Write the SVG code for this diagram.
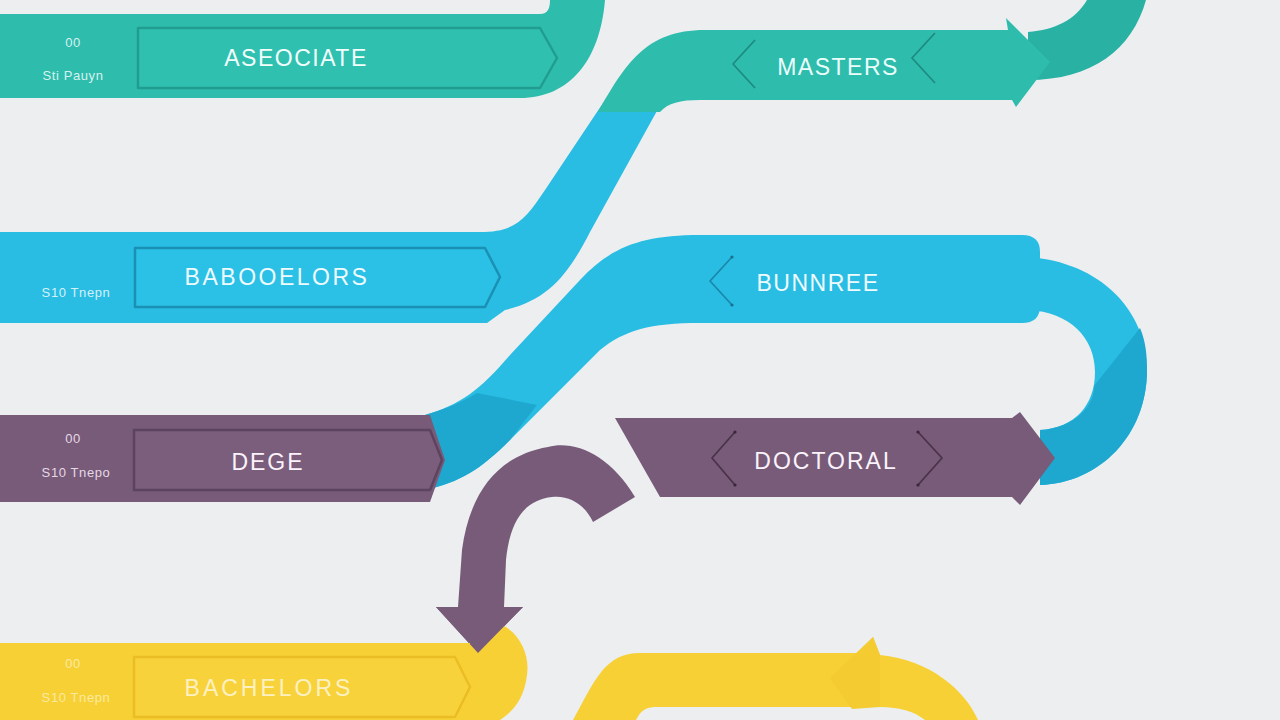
<svg xmlns="http://www.w3.org/2000/svg" width="1280" height="720" viewBox="0 0 1280 720">
<defs>
<style>
.teal{fill:#2ebcad}
.tealD{fill:#29b2a3}
.cyan{fill:#29bde3}
.cyanD{fill:#1ea8cf}
.purple{fill:#775b79}
.yellow{fill:#f7d035}
.lbl{font-family:"Liberation Sans","Open Sans",Arial,sans-serif;font-size:23px;text-anchor:middle;dominant-baseline:central}
.sm{font-family:"Liberation Sans",Arial,sans-serif;font-size:13px;text-anchor:middle;dominant-baseline:central;letter-spacing:0.6px}
.box{stroke-width:2.5;stroke-linejoin:round}
.chev{fill:none;stroke-width:1.8;stroke-linejoin:round}
</style>
</defs>
<rect width="1280" height="720" fill="#eceef0"/>

<g id="connectors">
  <path class="tealD" d="M1028 32 C1055 30 1075 20 1087 0 L1146 0 C1132 50 1092 80 1028 80 Z"/>
  <path class="cyan" d="M0 232 L480 232 C515 232 525 220 545 190 L615 85 L663 100 L590 232 C568 275 548 300 505 310 L487 323 L0 323 Z"/>
  <path class="cyan" d="M1028 257 C1100 262 1147 310 1147 370 C1147 435 1100 483 1040 485 L1040 430 C1075 428 1095 405 1095 372 C1095 338 1070 312 1028 310 Z"/>
  <path class="cyanD" d="M1140 328 C1146 342 1147 356 1147 370 C1147 435 1100 483 1040 485 L1040 430 C1075 428 1095 405 1094 386 Z"/>
  <path class="cyan" d="M425 415 C460 405 480 390 510 355 L580 280 C610 248 640 235 700 235 L1022 235 Q1040 235 1040 252 L1040 306 Q1040 323 1022 323 L700 323 C650 323 625 330 600 350 L510 440 C480 470 460 482 425 490 Z"/>
  <path class="cyanD" d="M425 415 C450 408 465 400 477 393 L537 405 L510 440 C480 470 460 482 425 490 Z"/>
  <path class="purple" d="M635 497 C610 455 575 440 548 447 C500 455 470 490 462 550 L458 607 L436 607 L478 653 L523 607 L504 607 L506 560 C510 520 525 500 552 497 C570 495 585 505 593 522 Z"/>
</g>

<g id="node-associate">
  <path class="teal" d="M0 14 L540 14 C548 14 550 8 550 0 L605 0 C600 60 570 98 520 98 L0 98 Z"/>
  <polygon class="box" points="138,28 540,28 557,58 540,88 138,88" fill="#30c0b0" stroke="#219d90"/>
  <text class="sm" x="73" y="42" fill="#d6f2ee">00</text>
  <text class="sm" x="73" y="75" fill="#d6f2ee">Sti Pauyn</text>
  <text class="lbl" x="296" y="58" fill="#f2fffd" letter-spacing="1.5">ASEOCIATE</text>
</g>

<g id="node-masters">
  <path class="teal" d="M598 112 C625 65 645 30 705 30 L1008 30 L1006 18 L1050 62 L1016 107 L1012 100 L700 100 C680 100 668 103 660 112 Z"/>
  <polyline class="chev" points="755,40 733,64 755,88" stroke="#1d8c80"/>
  <polyline class="chev" points="935,33 912,58 935,83" stroke="#1d8c80"/>
  <text class="lbl" x="838" y="67" fill="#eafffb" font-size="22" letter-spacing="1.5">MASTERS</text>
</g>

<g id="node-baboelors">
  <polygon class="box" points="135,248 485,248 500,277 485,307 135,307" fill="#2bc0e5" stroke="#1a90b4"/>
  <text class="sm" x="76" y="292" fill="#d3f1fa">S10 Tnepn</text>
  <text class="lbl" x="277" y="277" fill="#eefbff" letter-spacing="2.5">BABOOELORS</text>
</g>

<g id="node-bunnree">
  <polyline class="chev" points="732,257 710,281 732,305" stroke="#1a88ad"/>
  <circle cx="732" cy="257" r="1.6" fill="#1a6f8f"/>
  <circle cx="732" cy="305" r="1.6" fill="#1a6f8f"/>
  <text class="lbl" x="818" y="283" fill="#eefbff" font-size="21" letter-spacing="1.5">BUNNREE</text>
</g>

<g id="node-dege">
  <path class="purple" d="M0 415 L430 415 L445 460 L430 502 L0 502 Z"/>
  <polygon class="box" points="134,430 430,430 442,460 430,490 134,490" fill="#7a5e7c" stroke="#5e4360"/>
  <text class="sm" x="73" y="438" fill="#e6d8e6">00</text>
  <text class="sm" x="76" y="472" fill="#e6d8e6">S10 Tnepo</text>
  <text class="lbl" x="268" y="462" fill="#fbf3fb" letter-spacing="2">DEGE</text>
</g>

<g id="node-doctoral">
  <path class="purple" d="M615 418 L1012 418 L1020 412 L1055 458 L1020 505 L1012 497 L660 497 Z"/>
  <polyline class="chev" points="735,432 712,458 735,485" stroke="#4a3349"/>
  <polyline class="chev" points="918,432 942,458 918,485" stroke="#4a3349"/>
  <circle cx="735" cy="432" r="1.6" fill="#3a2639"/>
  <circle cx="735" cy="485" r="1.6" fill="#3a2639"/>
  <circle cx="918" cy="432" r="1.6" fill="#3a2639"/>
  <circle cx="918" cy="485" r="1.6" fill="#3a2639"/>
  <text class="lbl" x="826" y="461" fill="#fbf3fb" font-size="22" letter-spacing="2">DOCTORAL</text>
</g>

<g id="node-bachelors">
  <path class="yellow" d="M455 643 L478 645 L495 622 C520 630 530 655 527 675 C524 700 512 712 500 720 L460 720 Z"/>
  <path d="M436 607 L478 653 L523 607 Z" fill="#775b79"/>
  <rect class="yellow" x="0" y="643" width="470" height="77"/>
  <polygon class="box" points="134,657 455,657 470,687 455,717 134,717" fill="#f8d23b" stroke="#ebbd24"/>
  <text class="sm" x="73" y="663" fill="#fbeaa0">00</text>
  <text class="sm" x="76" y="697" fill="#fbeaa0">S10 Tnepn</text>
  <text class="lbl" x="269" y="688" fill="#fdf1c2" letter-spacing="3">BACHELORS</text>
</g>

<g id="node-yellow-path">
  <path class="yellow" d="M573 720 C595 680 605 653 640 653 L860 653 L873 637 L880 655 C930 660 965 690 978 720 L925 720 C915 712 900 707 880 707 L655 707 C645 707 640 712 636 720 Z"/>
  <path d="M873 637 L880 655 L880 707 L852 709 L830 678 Z" fill="#f4cb30"/>
</g>
</svg>
